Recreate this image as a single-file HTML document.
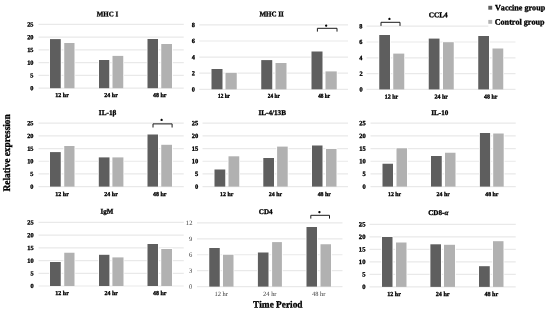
<!DOCTYPE html>
<html><head><meta charset="utf-8"><title>Relative expression chart</title>
<style>
html,body{margin:0;padding:0;background:#fff;}
svg{display:block;font-family:"Liberation Serif","Times New Roman",serif;font-weight:bold;font-kerning:none;text-rendering:geometricPrecision;}
</style></head>
<body>
<svg width="550" height="312" viewBox="0 0 550 312">
<rect x="0" y="0" width="550" height="312" fill="#fff"/>
<line x1="38.5" x2="183.75" y1="88.20" y2="88.20" stroke="#e9e9e9" stroke-width="1.2"/>
<line x1="38.5" x2="183.75" y1="75.44" y2="75.44" stroke="#e9e9e9" stroke-width="1.2"/>
<line x1="38.5" x2="183.75" y1="62.68" y2="62.68" stroke="#e9e9e9" stroke-width="1.2"/>
<line x1="38.5" x2="183.75" y1="49.92" y2="49.92" stroke="#e9e9e9" stroke-width="1.2"/>
<line x1="38.5" x2="183.75" y1="37.16" y2="37.16" stroke="#e9e9e9" stroke-width="1.2"/>
<line x1="38.5" x2="183.75" y1="24.40" y2="24.40" stroke="#e9e9e9" stroke-width="1.2"/>
<rect x="49.20" y="38.30" width="12.35" height="49.10" fill="#fff"/>
<rect x="63.45" y="42.20" width="11.85" height="45.20" fill="#fff"/>
<rect x="98.20" y="59.20" width="11.85" height="28.20" fill="#fff"/>
<rect x="111.70" y="55.10" width="12.35" height="32.30" fill="#fff"/>
<rect x="146.70" y="38.20" width="12.10" height="49.20" fill="#fff"/>
<rect x="160.45" y="43.20" width="12.35" height="44.20" fill="#fff"/>
<rect x="50" y="39.1" width="10.75" height="49.10" fill="#5e5e5e"/>
<rect x="64.25" y="43" width="10.25" height="45.20" fill="#b1b1b1"/>
<rect x="99" y="60" width="10.25" height="28.20" fill="#5e5e5e"/>
<rect x="112.5" y="55.9" width="10.75" height="32.30" fill="#b1b1b1"/>
<rect x="147.5" y="39" width="10.50" height="49.20" fill="#5e5e5e"/>
<rect x="161.25" y="44" width="10.75" height="44.20" fill="#b1b1b1"/>
<line x1="199.3" x2="348" y1="89.30" y2="89.30" stroke="#e9e9e9" stroke-width="1.2"/>
<line x1="199.3" x2="348" y1="73.20" y2="73.20" stroke="#e9e9e9" stroke-width="1.2"/>
<line x1="199.3" x2="348" y1="57.10" y2="57.10" stroke="#e9e9e9" stroke-width="1.2"/>
<line x1="199.3" x2="348" y1="41.00" y2="41.00" stroke="#e9e9e9" stroke-width="1.2"/>
<line x1="199.3" x2="348" y1="24.90" y2="24.90" stroke="#e9e9e9" stroke-width="1.2"/>
<rect x="210.70" y="68.20" width="12.60" height="20.30" fill="#fff"/>
<rect x="224.70" y="72.00" width="12.85" height="16.50" fill="#fff"/>
<rect x="260.45" y="59.30" width="12.60" height="29.20" fill="#fff"/>
<rect x="274.70" y="62.20" width="12.60" height="26.30" fill="#fff"/>
<rect x="310.70" y="50.70" width="12.60" height="37.80" fill="#fff"/>
<rect x="324.70" y="70.60" width="12.85" height="17.90" fill="#fff"/>
<rect x="211.5" y="69" width="11.00" height="20.30" fill="#5e5e5e"/>
<rect x="225.5" y="72.8" width="11.25" height="16.50" fill="#b1b1b1"/>
<rect x="261.25" y="60.1" width="11.00" height="29.20" fill="#5e5e5e"/>
<rect x="275.5" y="63" width="11.00" height="26.30" fill="#b1b1b1"/>
<rect x="311.5" y="51.5" width="11.00" height="37.80" fill="#5e5e5e"/>
<rect x="325.5" y="71.4" width="11.25" height="17.90" fill="#b1b1b1"/>
<line x1="366.5" x2="515.5" y1="89.40" y2="89.40" stroke="#e9e9e9" stroke-width="1.2"/>
<line x1="366.5" x2="515.5" y1="73.60" y2="73.60" stroke="#e9e9e9" stroke-width="1.2"/>
<line x1="366.5" x2="515.5" y1="57.80" y2="57.80" stroke="#e9e9e9" stroke-width="1.2"/>
<line x1="366.5" x2="515.5" y1="42.00" y2="42.00" stroke="#e9e9e9" stroke-width="1.2"/>
<line x1="366.5" x2="488.3" y1="26.20" y2="26.20" stroke="#e9e9e9" stroke-width="1.2"/>
<rect x="378.45" y="34.20" width="12.35" height="54.40" fill="#fff"/>
<rect x="392.45" y="52.80" width="12.60" height="35.80" fill="#fff"/>
<rect x="427.95" y="37.80" width="12.35" height="50.80" fill="#fff"/>
<rect x="442.20" y="41.40" width="12.35" height="47.20" fill="#fff"/>
<rect x="477.45" y="35.20" width="12.35" height="53.40" fill="#fff"/>
<rect x="491.70" y="47.70" width="12.35" height="40.90" fill="#fff"/>
<rect x="379.25" y="35" width="10.75" height="54.40" fill="#5e5e5e"/>
<rect x="393.25" y="53.6" width="11.00" height="35.80" fill="#b1b1b1"/>
<rect x="428.75" y="38.6" width="10.75" height="50.80" fill="#5e5e5e"/>
<rect x="443" y="42.2" width="10.75" height="47.20" fill="#b1b1b1"/>
<rect x="478.25" y="36" width="10.75" height="53.40" fill="#5e5e5e"/>
<rect x="492.5" y="48.5" width="10.75" height="40.90" fill="#b1b1b1"/>
<line x1="38.5" x2="183.75" y1="186.60" y2="186.60" stroke="#e9e9e9" stroke-width="1.2"/>
<line x1="38.5" x2="183.75" y1="173.92" y2="173.92" stroke="#e9e9e9" stroke-width="1.2"/>
<line x1="38.5" x2="183.75" y1="161.24" y2="161.24" stroke="#e9e9e9" stroke-width="1.2"/>
<line x1="38.5" x2="183.75" y1="148.56" y2="148.56" stroke="#e9e9e9" stroke-width="1.2"/>
<line x1="38.5" x2="183.75" y1="135.88" y2="135.88" stroke="#e9e9e9" stroke-width="1.2"/>
<line x1="38.5" x2="183.75" y1="123.20" y2="123.20" stroke="#e9e9e9" stroke-width="1.2"/>
<rect x="49.20" y="151.30" width="12.35" height="34.50" fill="#fff"/>
<rect x="63.45" y="145.20" width="11.85" height="40.60" fill="#fff"/>
<rect x="98.00" y="156.60" width="12.30" height="29.20" fill="#fff"/>
<rect x="111.60" y="156.60" width="12.60" height="29.20" fill="#fff"/>
<rect x="146.70" y="133.70" width="12.10" height="52.10" fill="#fff"/>
<rect x="160.45" y="144.00" width="12.35" height="41.80" fill="#fff"/>
<rect x="50" y="152.1" width="10.75" height="34.50" fill="#5e5e5e"/>
<rect x="64.25" y="146" width="10.25" height="40.60" fill="#b1b1b1"/>
<rect x="98.8" y="157.4" width="10.70" height="29.20" fill="#5e5e5e"/>
<rect x="112.4" y="157.4" width="11.00" height="29.20" fill="#b1b1b1"/>
<rect x="147.5" y="134.5" width="10.50" height="52.10" fill="#5e5e5e"/>
<rect x="161.25" y="144.8" width="10.75" height="41.80" fill="#b1b1b1"/>
<line x1="202.5" x2="348" y1="186.60" y2="186.60" stroke="#e9e9e9" stroke-width="1.2"/>
<line x1="202.5" x2="348" y1="173.92" y2="173.92" stroke="#e9e9e9" stroke-width="1.2"/>
<line x1="202.5" x2="348" y1="161.24" y2="161.24" stroke="#e9e9e9" stroke-width="1.2"/>
<line x1="202.5" x2="348" y1="148.56" y2="148.56" stroke="#e9e9e9" stroke-width="1.2"/>
<line x1="202.5" x2="348" y1="135.88" y2="135.88" stroke="#e9e9e9" stroke-width="1.2"/>
<line x1="202.5" x2="348" y1="123.20" y2="123.20" stroke="#e9e9e9" stroke-width="1.2"/>
<rect x="213.70" y="168.70" width="12.35" height="17.10" fill="#fff"/>
<rect x="227.70" y="155.50" width="12.35" height="30.30" fill="#fff"/>
<rect x="262.50" y="157.20" width="12.30" height="28.60" fill="#fff"/>
<rect x="276.30" y="145.80" width="12.20" height="40.00" fill="#fff"/>
<rect x="311.20" y="144.70" width="12.10" height="41.10" fill="#fff"/>
<rect x="325.20" y="148.20" width="12.10" height="37.60" fill="#fff"/>
<rect x="214.5" y="169.5" width="10.75" height="17.10" fill="#5e5e5e"/>
<rect x="228.5" y="156.3" width="10.75" height="30.30" fill="#b1b1b1"/>
<rect x="263.3" y="158" width="10.70" height="28.60" fill="#5e5e5e"/>
<rect x="277.1" y="146.6" width="10.60" height="40.00" fill="#b1b1b1"/>
<rect x="312" y="145.5" width="10.50" height="41.10" fill="#5e5e5e"/>
<rect x="326" y="149" width="10.50" height="37.60" fill="#b1b1b1"/>
<line x1="370.5" x2="515.75" y1="186.60" y2="186.60" stroke="#e9e9e9" stroke-width="1.2"/>
<line x1="370.5" x2="515.75" y1="173.92" y2="173.92" stroke="#e9e9e9" stroke-width="1.2"/>
<line x1="370.5" x2="515.75" y1="161.24" y2="161.24" stroke="#e9e9e9" stroke-width="1.2"/>
<line x1="370.5" x2="515.75" y1="148.56" y2="148.56" stroke="#e9e9e9" stroke-width="1.2"/>
<line x1="370.5" x2="515.75" y1="135.88" y2="135.88" stroke="#e9e9e9" stroke-width="1.2"/>
<line x1="370.5" x2="515.75" y1="123.20" y2="123.20" stroke="#e9e9e9" stroke-width="1.2"/>
<rect x="381.70" y="162.95" width="12.10" height="22.85" fill="#fff"/>
<rect x="395.70" y="147.45" width="12.10" height="38.35" fill="#fff"/>
<rect x="430.20" y="155.20" width="12.35" height="30.60" fill="#fff"/>
<rect x="444.20" y="151.95" width="12.10" height="33.85" fill="#fff"/>
<rect x="479.10" y="132.20" width="11.80" height="53.60" fill="#fff"/>
<rect x="492.40" y="132.70" width="12.10" height="53.10" fill="#fff"/>
<rect x="382.5" y="163.75" width="10.50" height="22.85" fill="#5e5e5e"/>
<rect x="396.5" y="148.25" width="10.50" height="38.35" fill="#b1b1b1"/>
<rect x="431" y="156" width="10.75" height="30.60" fill="#5e5e5e"/>
<rect x="445" y="152.75" width="10.50" height="33.85" fill="#b1b1b1"/>
<rect x="479.9" y="133" width="10.20" height="53.60" fill="#5e5e5e"/>
<rect x="493.2" y="133.5" width="10.50" height="53.10" fill="#b1b1b1"/>
<line x1="38.5" x2="183.75" y1="286.00" y2="286.00" stroke="#e9e9e9" stroke-width="1.2"/>
<line x1="38.5" x2="183.75" y1="273.28" y2="273.28" stroke="#e9e9e9" stroke-width="1.2"/>
<line x1="38.5" x2="183.75" y1="260.56" y2="260.56" stroke="#e9e9e9" stroke-width="1.2"/>
<line x1="38.5" x2="183.75" y1="247.84" y2="247.84" stroke="#e9e9e9" stroke-width="1.2"/>
<line x1="38.5" x2="183.75" y1="235.12" y2="235.12" stroke="#e9e9e9" stroke-width="1.2"/>
<line x1="38.5" x2="183.75" y1="222.40" y2="222.40" stroke="#e9e9e9" stroke-width="1.2"/>
<rect x="49.20" y="261.20" width="12.35" height="24.00" fill="#fff"/>
<rect x="63.45" y="251.95" width="11.85" height="33.25" fill="#fff"/>
<rect x="98.20" y="254.00" width="12.00" height="31.20" fill="#fff"/>
<rect x="111.60" y="256.60" width="12.70" height="28.60" fill="#fff"/>
<rect x="146.70" y="243.20" width="12.10" height="42.00" fill="#fff"/>
<rect x="160.45" y="248.20" width="12.35" height="37.00" fill="#fff"/>
<rect x="50" y="262" width="10.75" height="24.00" fill="#5e5e5e"/>
<rect x="64.25" y="252.75" width="10.25" height="33.25" fill="#b1b1b1"/>
<rect x="99" y="254.8" width="10.40" height="31.20" fill="#5e5e5e"/>
<rect x="112.4" y="257.4" width="11.10" height="28.60" fill="#b1b1b1"/>
<rect x="147.5" y="244" width="10.50" height="42.00" fill="#5e5e5e"/>
<rect x="161.25" y="249" width="10.75" height="37.00" fill="#b1b1b1"/>
<line x1="197" x2="342.5" y1="286.60" y2="286.60" stroke="#e9e9e9" stroke-width="1.2"/>
<line x1="197" x2="342.5" y1="270.68" y2="270.68" stroke="#e9e9e9" stroke-width="1.2"/>
<line x1="197" x2="342.5" y1="254.75" y2="254.75" stroke="#e9e9e9" stroke-width="1.2"/>
<line x1="197" x2="342.5" y1="238.83" y2="238.83" stroke="#e9e9e9" stroke-width="1.2"/>
<line x1="197" x2="342.5" y1="222.90" y2="222.90" stroke="#e9e9e9" stroke-width="1.2"/>
<rect x="208.45" y="247.20" width="12.10" height="38.60" fill="#fff"/>
<rect x="222.20" y="253.95" width="12.10" height="31.85" fill="#fff"/>
<rect x="257.10" y="251.70" width="12.20" height="34.10" fill="#fff"/>
<rect x="271.30" y="241.30" width="11.40" height="44.50" fill="#fff"/>
<rect x="305.70" y="226.20" width="12.10" height="59.60" fill="#fff"/>
<rect x="319.70" y="243.45" width="12.10" height="42.35" fill="#fff"/>
<rect x="209.25" y="248" width="10.50" height="38.60" fill="#5e5e5e"/>
<rect x="223" y="254.75" width="10.50" height="31.85" fill="#b1b1b1"/>
<rect x="257.9" y="252.5" width="10.60" height="34.10" fill="#5e5e5e"/>
<rect x="272.1" y="242.1" width="9.80" height="44.50" fill="#b1b1b1"/>
<rect x="306.5" y="227" width="10.50" height="59.60" fill="#5e5e5e"/>
<rect x="320.5" y="244.25" width="10.50" height="42.35" fill="#b1b1b1"/>
<line x1="369.5" x2="515.75" y1="286.90" y2="286.90" stroke="#e9e9e9" stroke-width="1.2"/>
<line x1="369.5" x2="515.75" y1="274.38" y2="274.38" stroke="#e9e9e9" stroke-width="1.2"/>
<line x1="369.5" x2="515.75" y1="261.86" y2="261.86" stroke="#e9e9e9" stroke-width="1.2"/>
<line x1="369.5" x2="515.75" y1="249.34" y2="249.34" stroke="#e9e9e9" stroke-width="1.2"/>
<line x1="369.5" x2="515.75" y1="236.82" y2="236.82" stroke="#e9e9e9" stroke-width="1.2"/>
<line x1="369.5" x2="515.75" y1="224.30" y2="224.30" stroke="#e9e9e9" stroke-width="1.2"/>
<rect x="381.20" y="236.20" width="12.10" height="49.90" fill="#fff"/>
<rect x="395.20" y="241.70" width="12.10" height="44.40" fill="#fff"/>
<rect x="429.60" y="243.50" width="12.20" height="42.60" fill="#fff"/>
<rect x="443.20" y="244.00" width="12.60" height="42.10" fill="#fff"/>
<rect x="478.20" y="265.40" width="12.35" height="20.70" fill="#fff"/>
<rect x="492.20" y="240.40" width="12.10" height="45.70" fill="#fff"/>
<rect x="382" y="237" width="10.50" height="49.90" fill="#5e5e5e"/>
<rect x="396" y="242.5" width="10.50" height="44.40" fill="#b1b1b1"/>
<rect x="430.4" y="244.3" width="10.60" height="42.60" fill="#5e5e5e"/>
<rect x="444" y="244.8" width="11.00" height="42.10" fill="#b1b1b1"/>
<rect x="479" y="266.2" width="10.75" height="20.70" fill="#5e5e5e"/>
<rect x="493" y="241.2" width="10.50" height="45.70" fill="#b1b1b1"/>
<text transform="translate(30.29,90.30) skewY(0.05) scale(1.0000,1.0000)" font-size="6.3" stroke="#000" stroke-width="0.300">0</text>
<text transform="translate(30.28,77.54) skewY(0.05) scale(1.0000,1.0000)" font-size="6.3" stroke="#000" stroke-width="0.300">5</text>
<text transform="translate(27.14,64.78) skewY(0.05) scale(1.0000,1.0000)" font-size="6.3" stroke="#000" stroke-width="0.300">10</text>
<text transform="translate(27.13,52.02) skewY(0.05) scale(1.0000,1.0000)" font-size="6.3" stroke="#000" stroke-width="0.300">15</text>
<text transform="translate(27.14,39.26) skewY(0.05) scale(1.0000,1.0000)" font-size="6.3" stroke="#000" stroke-width="0.300">20</text>
<text transform="translate(27.13,26.50) skewY(0.05) scale(1.0000,1.0000)" font-size="6.3" stroke="#000" stroke-width="0.300">25</text>
<text transform="translate(55.32,97.00) skewY(0.05) scale(1.0000,1.0000)" font-size="6.0" stroke="#000" stroke-width="0.300">12 hr</text>
<text transform="translate(104.31,97.00) skewY(0.05) scale(1.0000,1.0000)" font-size="6.0" stroke="#000" stroke-width="0.300">24 hr</text>
<text transform="translate(153.02,97.00) skewY(0.05) scale(1.0000,1.0000)" font-size="6.0" stroke="#000" stroke-width="0.300">48 hr</text>
<text transform="translate(96.78,16.30) skewY(0.05) scale(1.0000,1.0000)" font-size="6.96" stroke="#000" stroke-width="0.300">MHC I</text>
<text transform="translate(191.79,91.40) skewY(0.05) scale(1.0000,1.0000)" font-size="6.3" stroke="#000" stroke-width="0.300">0</text>
<text transform="translate(191.82,75.30) skewY(0.05) scale(1.0000,1.0000)" font-size="6.3" stroke="#000" stroke-width="0.300">2</text>
<text transform="translate(191.67,59.20) skewY(0.05) scale(1.0000,1.0000)" font-size="6.3" stroke="#000" stroke-width="0.300">4</text>
<text transform="translate(191.73,43.10) skewY(0.05) scale(1.0000,1.0000)" font-size="6.3" stroke="#000" stroke-width="0.300">6</text>
<text transform="translate(191.76,27.00) skewY(0.05) scale(1.0000,1.0000)" font-size="6.3" stroke="#000" stroke-width="0.300">8</text>
<text transform="translate(218.01,97.80) skewY(0.05) scale(1.0000,1.1200)" font-size="5.3" stroke="#000" stroke-width="0.300">12 hr</text>
<text transform="translate(267.86,97.80) skewY(0.05) scale(1.0000,1.1200)" font-size="5.3" stroke="#000" stroke-width="0.300">24 hr</text>
<text transform="translate(318.18,97.80) skewY(0.05) scale(1.0000,1.1200)" font-size="5.3" stroke="#000" stroke-width="0.300">48 hr</text>
<text transform="translate(259.39,16.30) skewY(0.05) scale(1.0000,1.0000)" font-size="7.04" stroke="#000" stroke-width="0.300">MHC II</text>
<text transform="translate(359.39,91.50) skewY(0.05) scale(1.0000,1.0000)" font-size="6.3" stroke="#000" stroke-width="0.300">0</text>
<text transform="translate(359.42,75.70) skewY(0.05) scale(1.0000,1.0000)" font-size="6.3" stroke="#000" stroke-width="0.300">2</text>
<text transform="translate(359.27,59.90) skewY(0.05) scale(1.0000,1.0000)" font-size="6.3" stroke="#000" stroke-width="0.300">4</text>
<text transform="translate(359.33,44.10) skewY(0.05) scale(1.0000,1.0000)" font-size="6.3" stroke="#000" stroke-width="0.300">6</text>
<text transform="translate(359.36,28.30) skewY(0.05) scale(1.0000,1.0000)" font-size="6.3" stroke="#000" stroke-width="0.300">8</text>
<text transform="translate(384.87,98.40) skewY(0.05) scale(1.0000,1.0000)" font-size="5.96" stroke="#000" stroke-width="0.300">12 hr</text>
<text transform="translate(434.48,98.40) skewY(0.05) scale(1.0000,1.0000)" font-size="5.96" stroke="#000" stroke-width="0.300">24 hr</text>
<text transform="translate(484.07,98.40) skewY(0.05) scale(1.0000,1.0000)" font-size="5.96" stroke="#000" stroke-width="0.300">48 hr</text>
<text transform="translate(428.75,17.30) skewY(0.05) scale(1.0000,1.0000)" font-size="7.27" stroke="#000" stroke-width="0.300">CCL4</text>
<text transform="translate(30.29,188.70) skewY(0.05) scale(1.0000,1.0000)" font-size="6.3" stroke="#000" stroke-width="0.300">0</text>
<text transform="translate(30.28,176.02) skewY(0.05) scale(1.0000,1.0000)" font-size="6.3" stroke="#000" stroke-width="0.300">5</text>
<text transform="translate(27.14,163.34) skewY(0.05) scale(1.0000,1.0000)" font-size="6.3" stroke="#000" stroke-width="0.300">10</text>
<text transform="translate(27.13,150.66) skewY(0.05) scale(1.0000,1.0000)" font-size="6.3" stroke="#000" stroke-width="0.300">15</text>
<text transform="translate(27.14,137.98) skewY(0.05) scale(1.0000,1.0000)" font-size="6.3" stroke="#000" stroke-width="0.300">20</text>
<text transform="translate(27.13,125.30) skewY(0.05) scale(1.0000,1.0000)" font-size="6.3" stroke="#000" stroke-width="0.300">25</text>
<text transform="translate(55.32,196.10) skewY(0.05) scale(1.0000,1.0000)" font-size="6.0" stroke="#000" stroke-width="0.300">12 hr</text>
<text transform="translate(104.29,196.10) skewY(0.05) scale(1.0000,1.0000)" font-size="6.0" stroke="#000" stroke-width="0.300">24 hr</text>
<text transform="translate(153.02,196.10) skewY(0.05) scale(1.0000,1.0000)" font-size="6.0" stroke="#000" stroke-width="0.300">48 hr</text>
<text transform="translate(98.86,114.90) skewY(0.05) scale(1.0000,1.0000)" font-size="7.28" stroke="#000" stroke-width="0.300">IL-1β</text>
<text transform="translate(194.90,188.70) skewY(0.05) scale(1.0000,1.0000)" font-size="6.5" stroke="#000" stroke-width="0.300">0</text>
<text transform="translate(194.89,176.02) skewY(0.05) scale(1.0000,1.0000)" font-size="6.5" stroke="#000" stroke-width="0.300">5</text>
<text transform="translate(191.65,163.34) skewY(0.05) scale(1.0000,1.0000)" font-size="6.5" stroke="#000" stroke-width="0.300">10</text>
<text transform="translate(191.64,150.66) skewY(0.05) scale(1.0000,1.0000)" font-size="6.5" stroke="#000" stroke-width="0.300">15</text>
<text transform="translate(191.65,137.98) skewY(0.05) scale(1.0000,1.0000)" font-size="6.5" stroke="#000" stroke-width="0.300">20</text>
<text transform="translate(191.64,125.30) skewY(0.05) scale(1.0000,1.0000)" font-size="6.5" stroke="#000" stroke-width="0.300">25</text>
<text transform="translate(220.10,196.10) skewY(0.05) scale(1.0000,1.0000)" font-size="5.87" stroke="#000" stroke-width="0.300">12 hr</text>
<text transform="translate(268.84,196.10) skewY(0.05) scale(1.0000,1.0000)" font-size="5.87" stroke="#000" stroke-width="0.300">24 hr</text>
<text transform="translate(317.67,196.10) skewY(0.05) scale(1.0000,1.0000)" font-size="5.87" stroke="#000" stroke-width="0.300">48 hr</text>
<text transform="translate(258.46,114.90) skewY(0.05) scale(1.0000,1.0000)" font-size="7.18" stroke="#000" stroke-width="0.300">IL-4/13B</text>
<text transform="translate(362.60,188.70) skewY(0.05) scale(1.0000,1.0000)" font-size="6.5" stroke="#000" stroke-width="0.300">0</text>
<text transform="translate(362.59,176.02) skewY(0.05) scale(1.0000,1.0000)" font-size="6.5" stroke="#000" stroke-width="0.300">5</text>
<text transform="translate(359.35,163.34) skewY(0.05) scale(1.0000,1.0000)" font-size="6.5" stroke="#000" stroke-width="0.300">10</text>
<text transform="translate(359.34,150.66) skewY(0.05) scale(1.0000,1.0000)" font-size="6.5" stroke="#000" stroke-width="0.300">15</text>
<text transform="translate(359.35,137.98) skewY(0.05) scale(1.0000,1.0000)" font-size="6.5" stroke="#000" stroke-width="0.300">20</text>
<text transform="translate(359.34,125.30) skewY(0.05) scale(1.0000,1.0000)" font-size="6.5" stroke="#000" stroke-width="0.300">25</text>
<text transform="translate(387.97,196.10) skewY(0.05) scale(1.0000,1.0000)" font-size="5.87" stroke="#000" stroke-width="0.300">12 hr</text>
<text transform="translate(436.59,196.10) skewY(0.05) scale(1.0000,1.0000)" font-size="5.87" stroke="#000" stroke-width="0.300">24 hr</text>
<text transform="translate(485.22,196.10) skewY(0.05) scale(1.0000,1.0000)" font-size="5.87" stroke="#000" stroke-width="0.300">48 hr</text>
<text transform="translate(431.36,114.90) skewY(0.05) scale(1.0000,1.0000)" font-size="7.08" stroke="#000" stroke-width="0.300">IL-10</text>
<text transform="translate(30.39,288.10) skewY(0.05) scale(1.0000,1.0000)" font-size="6.3" stroke="#000" stroke-width="0.300">0</text>
<text transform="translate(30.38,275.38) skewY(0.05) scale(1.0000,1.0000)" font-size="6.3" stroke="#000" stroke-width="0.300">5</text>
<text transform="translate(27.24,262.66) skewY(0.05) scale(1.0000,1.0000)" font-size="6.3" stroke="#000" stroke-width="0.300">10</text>
<text transform="translate(27.23,249.94) skewY(0.05) scale(1.0000,1.0000)" font-size="6.3" stroke="#000" stroke-width="0.300">15</text>
<text transform="translate(27.24,237.22) skewY(0.05) scale(1.0000,1.0000)" font-size="6.3" stroke="#000" stroke-width="0.300">20</text>
<text transform="translate(27.23,224.50) skewY(0.05) scale(1.0000,1.0000)" font-size="6.3" stroke="#000" stroke-width="0.300">25</text>
<text transform="translate(55.32,295.00) skewY(0.05) scale(1.0000,1.0000)" font-size="6.0" stroke="#000" stroke-width="0.300">12 hr</text>
<text transform="translate(104.44,295.00) skewY(0.05) scale(1.0000,1.0000)" font-size="6.0" stroke="#000" stroke-width="0.300">24 hr</text>
<text transform="translate(153.02,295.00) skewY(0.05) scale(1.0000,1.0000)" font-size="6.0" stroke="#000" stroke-width="0.300">48 hr</text>
<text transform="translate(100.47,213.60) skewY(0.05) scale(1.0000,1.0000)" font-size="7.0" stroke="#000" stroke-width="0.300">IgM</text>
<text transform="translate(189.05,288.70) skewY(0.05) scale(1.0000,1.0000)" font-size="6.6" font-weight="normal" fill="#3c3c3c">0</text>
<text transform="translate(189.06,272.78) skewY(0.05) scale(1.0000,1.0000)" font-size="6.6" font-weight="normal" fill="#3c3c3c">3</text>
<text transform="translate(189.00,256.85) skewY(0.05) scale(1.0000,1.0000)" font-size="6.6" font-weight="normal" fill="#3c3c3c">6</text>
<text transform="translate(189.07,240.93) skewY(0.05) scale(1.0000,1.0000)" font-size="6.6" font-weight="normal" fill="#3c3c3c">9</text>
<text transform="translate(185.86,225.00) skewY(0.05) scale(1.0000,1.0000)" font-size="6.6" font-weight="normal" fill="#3c3c3c">12</text>
<text transform="translate(214.41,296.10) skewY(0.05) scale(1.0000,1.0000)" font-size="6.44" font-weight="normal" fill="#3c3c3c">12 hr</text>
<text transform="translate(263.08,296.10) skewY(0.05) scale(1.0000,1.0000)" font-size="6.44" font-weight="normal" fill="#3c3c3c">24 hr</text>
<text transform="translate(312.01,296.10) skewY(0.05) scale(1.0000,1.0000)" font-size="6.44" font-weight="normal" fill="#3c3c3c">48 hr</text>
<text transform="translate(258.75,214.00) skewY(0.05) scale(1.0000,1.0000)" font-size="7.14" stroke="#000" stroke-width="0.300">CD4</text>
<text transform="translate(362.15,289.00) skewY(0.05) scale(1.0000,1.0000)" font-size="6.6" stroke="#000" stroke-width="0.300">0</text>
<text transform="translate(362.14,276.48) skewY(0.05) scale(1.0000,1.0000)" font-size="6.6" stroke="#000" stroke-width="0.300">5</text>
<text transform="translate(358.85,263.96) skewY(0.05) scale(1.0000,1.0000)" font-size="6.6" stroke="#000" stroke-width="0.300">10</text>
<text transform="translate(358.84,251.44) skewY(0.05) scale(1.0000,1.0000)" font-size="6.6" stroke="#000" stroke-width="0.300">15</text>
<text transform="translate(358.85,238.92) skewY(0.05) scale(1.0000,1.0000)" font-size="6.6" stroke="#000" stroke-width="0.300">20</text>
<text transform="translate(358.84,226.40) skewY(0.05) scale(1.0000,1.0000)" font-size="6.6" stroke="#000" stroke-width="0.300">25</text>
<text transform="translate(387.21,296.10) skewY(0.05) scale(1.0000,1.0000)" font-size="6.1" stroke="#000" stroke-width="0.300">12 hr</text>
<text transform="translate(435.77,296.10) skewY(0.05) scale(1.0000,1.0000)" font-size="6.1" stroke="#000" stroke-width="0.300">24 hr</text>
<text transform="translate(484.41,296.10) skewY(0.05) scale(1.0000,1.0000)" font-size="6.1" stroke="#000" stroke-width="0.300">48 hr</text>
<text transform="translate(428.15,215.10) skewY(0.05)" font-size="7.16" stroke="#000" stroke-width="0.3">CD8-<tspan font-style="italic">α</tspan></text>
<path d="M317.4 31.6 V28.3 H337 V31.6" fill="none" stroke="#1a1a1a" stroke-width="1.0" stroke-linejoin="round"/>
<text transform="translate(326.2,27.80) skewY(0.05)" text-anchor="middle" font-size="4.6" stroke="#000" stroke-width="0.35">*</text>
<path d="M381 25.9 V22.3 H400 V25.9" fill="none" stroke="#1a1a1a" stroke-width="1.0" stroke-linejoin="round"/>
<text transform="translate(389.5,20.90) skewY(0.05)" text-anchor="middle" font-size="4.6" stroke="#000" stroke-width="0.35">*</text>
<path d="M153 127.5 V123.9 H172.1 V127.5" fill="none" stroke="#1a1a1a" stroke-width="1.0" stroke-linejoin="round"/>
<text transform="translate(161.6,122.00) skewY(0.05)" text-anchor="middle" font-size="4.6" stroke="#000" stroke-width="0.35">*</text>
<path d="M310.8 218.6 V215.3 H329.5 V218.6" fill="none" stroke="#1a1a1a" stroke-width="1.0" stroke-linejoin="round"/>
<text transform="translate(319.4,214.30) skewY(0.05)" text-anchor="middle" font-size="4.6" stroke="#000" stroke-width="0.35">*</text>
<rect x="488.3" y="5.8" width="3.9" height="3.9" fill="#5e5e5e"/>
<rect x="488.3" y="19.9" width="3.9" height="3.9" fill="#b1b1b1"/>
<text transform="translate(495.01,10.30) skewY(0.05) scale(1.0115,1.0000)" font-size="8.0" stroke="#000" stroke-width="0.316">Vaccine group</text>
<text transform="translate(494.70,24.50) skewY(0.05) scale(1.0145,1.0000)" font-size="8.0" stroke="#000" stroke-width="0.315">Control group</text>
<text transform="translate(253.05,307.40) skewY(0.05) scale(0.9991,1.0200)" font-size="9.35" stroke="#000" stroke-width="0.300">Time Period</text>
<g transform="translate(10,191.46) rotate(-90)"><text transform="skewY(0.05) scale(1.0002,1.08)" font-size="9.37" stroke="#000" stroke-width="0.3">Relative expression</text></g>
</svg>
</body></html>
